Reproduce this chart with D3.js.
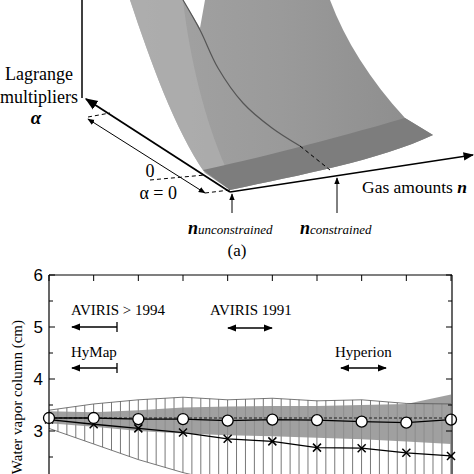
<!DOCTYPE html><html><head><meta charset="utf-8">
<script src="https://cdn.jsdelivr.net/npm/d3@7"></script>
<style>body{margin:0;background:#fff}</style></head><body>
<svg id="c" width="474" height="474"></svg>
<script>
const positions=[0,1,2,3,4,5,6,7,8,9];
const retrieved=[3.25,3.25,3.23,3.23,3.2,3.22,3.21,3.18,3.16,3.22];
const unconstrained=[3.22,3.13,3.05,2.97,2.85,2.8,2.68,2.67,2.58,2.52];
const trueValue=3.25;
const grayUpper=[3.38,3.36,3.4,3.45,3.47,3.48,3.48,3.5,3.52,3.7];
const grayLower=[3.15,3.08,3.0,2.95,2.92,2.9,2.87,2.84,2.8,2.75];
const hatchUpper=[3.4,3.52,3.6,3.65,3.6,3.63,3.58,3.6,3.53,3.52];
const hatchLower=[3.05,2.75,2.45,2.2,2.0,1.9,1.8,1.7,1.6,1.5];
const yTicks=[3,4,5,6];
const SERIF="Liberation Serif";
const svg=d3.select("#c");
const g=svg.append("g");
const defs=svg.append("defs");
const lg=defs.append("linearGradient").attr("id","gs").attr("x1",0).attr("x2",1);
lg.append("stop").attr("offset","0").attr("stop-color","#a4a4a4");
lg.append("stop").attr("offset","0.5").attr("stop-color","#9a9a9a");
lg.append("stop").attr("offset","1").attr("stop-color","#8c8c8c");
const line=d3.line().curve(d3.curveCatmullRom);
g.append("path").attr("fill","url(#gs)").attr("d","M130,0 C150,60 175,130 205,173 L230,190 C300,175 380,160 433,135 L405,118 C370,80 345,40 330,0 L205,0 L200,28 L183,0 Z");
g.append("path").attr("fill","#b0b0b0").attr("opacity",0.7).attr("d","M130,0 C150,60 175,130 205,173 L225,166 C205,120 190,60 183,0 Z");
g.append("path").attr("fill","#7d7d7d").attr("d","M203,170 C250,160 330,140 405,118 L433,135 C380,160 300,175 230,190 Z");
g.append("path").attr("fill","none").attr("stroke","#555").attr("stroke-width",1.2).attr("d",line([[183,0],[200,30],[218,68],[243,103],[272,128],[300,146]]));
const dash=(x1,y1,x2,y2)=>g.append("line").attr("x1",x1).attr("y1",y1).attr("x2",x2).attr("y2",y2).attr("stroke","#000").attr("stroke-dasharray","4,3");
dash(300,146,330,170);dash(150,180,205,175);dash(205,193,230,190);dash(88,117,110,113);
const mk=defs.append("marker").attr("id","ah").attr("viewBox","0 0 10 10").attr("refX",9).attr("refY",5).attr("markerWidth",7).attr("markerHeight",7).attr("orient","auto-start-reverse");
mk.append("path").attr("d","M0,1 L10,5 L0,9 Z").attr("fill","#000");
const ar=(x1,y1,x2,y2,w,both)=>{const l=g.append("line").attr("x1",x1).attr("y1",y1).attr("x2",x2).attr("y2",y2).attr("stroke","#000").attr("stroke-width",w).attr("marker-end","url(#ah)");if(both)l.attr("marker-start","url(#ah)");};
g.append("line").attr("x1",82).attr("y1",0).attr("x2",82).attr("y2",98).attr("stroke","#000").attr("stroke-width",1.5);
ar(230,192,86,99,1.8);ar(230,192,473,155,1.5);ar(205,193,88,119,1,true);
ar(232,213,232,194,1);ar(337,213,337,178,1);
const t=(x,y,s,o={})=>g.append("text").attr("x",x).attr("y",y).attr("font-family",SERIF).attr("font-size",o.fs||18).attr("text-anchor",o.a||"middle").attr("font-style",o.i?"italic":null).attr("font-weight",o.b?"bold":null).text(s);
t(39,80,"Lagrange",{fs:18});t(39,103,"multipliers",{fs:18});t(36,124,"α",{i:1,b:1,fs:19});
t(150,177,"0");t(177,199,"α = 0",{a:"end"});
const ga=t(362,193,"Gas amounts ",{a:"start",fs:17.5});ga.append("tspan").attr("font-style","italic").attr("font-weight","bold").text("n");
const nu=g.append("text").attr("x",188).attr("y",234).attr("font-family",SERIF).attr("font-size",18).attr("font-style","italic");
nu.append("tspan").attr("font-weight","bold").text("n");nu.append("tspan").attr("font-size",13).text("unconstrained");
const nc=g.append("text").attr("x",300).attr("y",234).attr("font-family",SERIF).attr("font-size",18).attr("font-style","italic");
nc.append("tspan").attr("font-weight","bold").text("n");nc.append("tspan").attr("font-size",13).text("constrained");
t(237,256,"(a)",{fs:17});
const x=d3.scaleLinear().domain([0,9]).range([49,451]);
const y=d3.scaleLinear().domain([3,6]).range([431,275]);
const b=svg.append("g");
b.append("clipPath").attr("id","cp").append("rect").attr("x",49).attr("y",275).attr("width",402).attr("height",199);
const cl=b.append("g").attr("clip-path","url(#cp)");
const area=(u,l)=>d3.area().x((d,i)=>x(i)).y0((d,i)=>y(l[i])).y1((d,i)=>y(u[i]))(positions);
const hg=cl.append("g");
hg.append("clipPath").attr("id","hc").append("path").attr("d",area(hatchUpper,hatchLower));
d3.range(49,452,8.93).forEach(xx=>hg.append("line").attr("clip-path","url(#hc)").attr("x1",xx).attr("x2",xx).attr("y1",260).attr("y2",474).attr("stroke","#555").attr("stroke-width",0.8));
cl.append("path").attr("d",area(grayUpper,grayLower)).attr("fill","#8f8f8f").attr("opacity",0.85);
const ln=d3.line().x((d,i)=>x(i));
cl.append("path").attr("d",ln.y(d=>y(d))(hatchUpper)).attr("fill","none").attr("stroke","#555").attr("stroke-width",0.8);
cl.append("path").attr("d",ln.y(d=>y(d))(hatchLower)).attr("fill","none").attr("stroke","#555").attr("stroke-width",0.8);
cl.append("line").attr("x1",49).attr("x2",451).attr("y1",y(trueValue)).attr("y2",y(trueValue)).attr("stroke","#000").attr("stroke-dasharray","3,2").attr("stroke-width",0.8);
cl.append("path").attr("d",ln.y(d=>y(d))(unconstrained)).attr("fill","none").attr("stroke","#000").attr("stroke-width",1.3);
cl.append("path").attr("d",ln.y(d=>y(d))(retrieved)).attr("fill","none").attr("stroke","#000").attr("stroke-width",1.3);
unconstrained.forEach((v,i)=>b.append("path").attr("d",`M${x(i)-4},${y(v)-4}L${x(i)+4},${y(v)+4}M${x(i)-4},${y(v)+4}L${x(i)+4},${y(v)-4}`).attr("stroke","#000").attr("stroke-width",1.5));
retrieved.forEach((v,i)=>b.append("circle").attr("cx",x(i)).attr("cy",y(v)).attr("r",5.5).attr("fill","#fff").attr("stroke","#000").attr("stroke-width",1.3));
b.append("line").attr("x1",49).attr("x2",49).attr("y1",275).attr("y2",474).attr("stroke","#000").attr("stroke-width",1.2);
b.append("line").attr("x1",452).attr("x2",452).attr("y1",275).attr("y2",474).attr("stroke","#000").attr("stroke-width",1.2);
b.append("line").attr("x1",49).attr("x2",452).attr("y1",275).attr("y2",275).attr("stroke","#000").attr("stroke-width",1.2);
d3.range(2.5,6.01,0.5).forEach(v=>{const L=v%1===0?6:4;b.append("line").attr("x1",49).attr("x2",49+L).attr("y1",y(v)).attr("y2",y(v)).attr("stroke","#000");b.append("line").attr("x1",452).attr("x2",452-L).attr("y1",y(v)).attr("y2",y(v)).attr("stroke","#000");});
positions.forEach(i=>b.append("line").attr("x1",x(i)).attr("x2",x(i)).attr("y1",275).attr("y2",281).attr("stroke","#000"));
yTicks.forEach(v=>b.append("text").attr("x",43).attr("y",y(v)+6).attr("text-anchor","end").attr("font-size",17).attr("font-family","Liberation Sans").text(v));
b.append("text").attr("transform","translate(22,320) rotate(-90)").attr("text-anchor","end").attr("font-family",SERIF).attr("font-size",15).text("Water vapor column (cm)");
const tb=(xx,yy,s)=>b.append("text").attr("x",xx).attr("y",yy).attr("font-family",SERIF).attr("font-size",15).text(s);
tb(71,315,"AVIRIS > 1994");tb(210,315,"AVIRIS 1991");tb(71,357,"HyMap");tb(335,357,"Hyperion");
const ar2=(x1,x2,yy,both)=>{const l=b.append("line").attr("x1",x1).attr("x2",x2).attr("y1",yy).attr("y2",yy).attr("stroke","#000").attr("stroke-width",1.3).attr("marker-end","url(#ah)");if(both)l.attr("marker-start","url(#ah)");else b.append("line").attr("x1",x1).attr("x2",x1).attr("y1",yy-5).attr("y2",yy+5).attr("stroke","#000").attr("stroke-width",1.3);};
ar2(117,72,327);ar2(117,72,368);ar2(228,272,328,1);ar2(341,386,368,1);
</script></body></html>
